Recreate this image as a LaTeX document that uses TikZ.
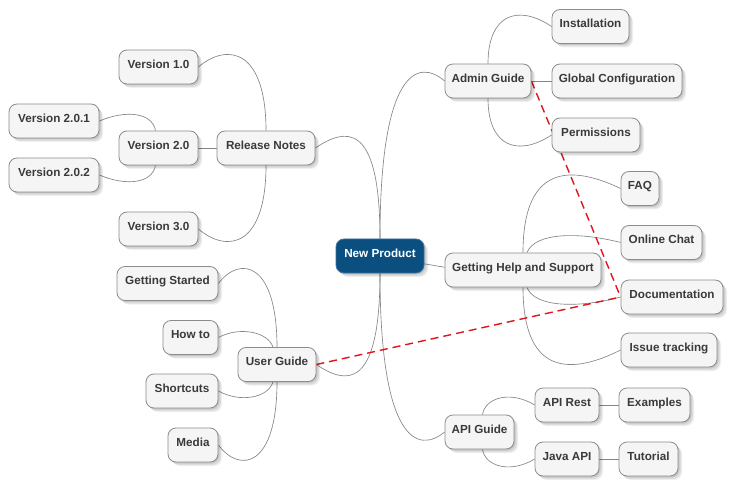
\documentclass[tikz,border=0pt]{standalone}
\usepackage{fontspec}
\setmainfont{Liberation Sans}
\usetikzlibrary{shadows,calc}
\pgfdeclarelayer{bottom}
\pgfdeclarelayer{background}
\pgfsetlayers{bottom,background,main}
\definecolor{txt}{HTML}{3A3A3A}
\definecolor{bord}{HTML}{8C8C8C}
\definecolor{nfill}{HTML}{F5F5F5}
\definecolor{npblue}{HTML}{0B4F80}
\definecolor{npbord}{HTML}{3A73A0}
\definecolor{edgec}{HTML}{858585}
\definecolor{dred}{HTML}{E0141E}
\begin{document}
\begin{tikzpicture}[x=1pt,y=-1pt,
  mm/.style={draw=bord, line width=0.8pt, fill=nfill, rounded corners=8pt,
    minimum height=34pt, inner xsep=2pt, inner ysep=0pt,
    text height=8pt, text depth=5.8pt, text=txt,
    font=\fontsize{11.7}{13}\selectfont\bfseries,
    drop shadow={shadow xshift=4pt, shadow yshift=-4pt, fill=black, opacity=0.06},
    drop shadow={shadow xshift=3pt, shadow yshift=-3pt, fill=black, opacity=0.08},
    drop shadow={shadow xshift=1.5pt, shadow yshift=-1.5pt, fill=black, opacity=0.10}},
  root/.style={mm, fill=npblue, draw=npbord, text=white},
  ln/.style={draw=edgec, line width=0.65pt},
  dline/.style={draw=dred, line width=1.4pt, dash pattern=on 8pt off 5pt}]
\useasboundingbox (0,0) rectangle (733,486);
\begin{pgfonlayer}{bottom}
\fill[white] (0,0) rectangle (733,486);
\end{pgfonlayer}

% nodes
\node[root, minimum width=88pt] (NP) at (380,256) {New Product};

\node[mm, minimum width=98pt] (RN) at (266,148) {Release Notes};
\node[mm, minimum width=79pt] (V1) at (158.5,67) {Version 1.0};
\node[mm, minimum width=79pt] (V2) at (158.5,148) {Version 2.0};
\node[mm, minimum width=79pt] (V3) at (158.5,229) {Version 3.0};
\node[mm, minimum width=90pt] (V201) at (54,121) {Version 2.0.1};
\node[mm, minimum width=90pt] (V202) at (54,175) {Version 2.0.2};

\node[mm, minimum width=86pt] (AG) at (488,81) {Admin Guide};
\node[mm, minimum width=77pt] (Inst) at (590.5,26.5) {Installation};
\node[mm, minimum width=130pt] (GC) at (617,81) {Global Configuration};
\node[mm, minimum width=88pt] (Perm) at (596,135) {Permissions};

\node[mm, minimum width=156pt] (GH) at (523,270) {Getting Help and Support};
\node[mm, minimum width=38pt] (FAQ) at (640,188.5) {FAQ};
\node[mm, minimum width=81pt] (OC) at (661.5,242.5) {Online Chat};
\node[mm, minimum width=102pt] (Doc) at (672,297) {Documentation};
\node[mm, minimum width=96pt] (IT) at (669,350) {Issue tracking};

\node[mm, minimum width=78pt] (UG) at (277,364.5) {User Guide};
\node[mm, minimum width=101pt] (GS) at (167.5,283.5) {Getting Started};
\node[mm, minimum width=55pt] (HT) at (190.5,337.5) {How to};
\node[mm, minimum width=72pt] (SC) at (182,391) {Shortcuts};
\node[mm, minimum width=50pt] (MD) at (193,445) {Media};

\node[mm, minimum width=69pt] (APIG) at (479.5,432) {API Guide};
\node[mm, minimum width=64pt] (AR) at (567,405) {API Rest};
\node[mm, minimum width=71pt] (EX) at (654.5,405) {Examples};
\node[mm, minimum width=64pt] (JA) at (567,459) {Java API};
\node[mm, minimum width=59pt] (TU) at (648.5,459) {Tutorial};

\begin{pgfonlayer}{background}
% root edges
\draw[ln] (NP.north) .. controls (380,120) and (345,128) .. (RN.east);
\draw[ln] (NP.north) .. controls (380,70) and (418,58) .. (AG.west);
\draw[ln] (NP.-10) -- (GH.178);
\draw[ln] (NP.south) .. controls (380,392) and (345,384) .. (UG.east);
\draw[ln] (NP.south) .. controls (380,442) and (418,454) .. (APIG.west);
% release notes
\draw[ln] (RN.north) .. controls (266,50) and (228,42) .. (V1.east);
\draw[ln] (RN.west) -- (V2.east);
\draw[ln] (RN.south) .. controls (266,246) and (228,254) .. (V3.east);
\draw[ln] ($(V2.north)+(-3,0)$) .. controls (152,112) and (125,110) .. (V201.east);
\draw[ln] ($(V2.south)+(-3,0)$) .. controls (152,184) and (125,186) .. (V202.east);
% admin guide
\draw[ln] (AG.north) .. controls (488,14) and (518,4) .. (Inst.west);
\draw[ln] (AG.east) -- (GC.west);
\draw[ln] (AG.south) .. controls (488,147) and (518,157) .. (Perm.west);
% getting help
\draw[ln] (GH.north) .. controls (523,170) and (565,162) .. (FAQ.west);
\draw[ln] ($(GH.north)+(4,0)$) .. controls (535,232) and (580,232) .. (OC.west);
\draw[ln] ($(GH.south)+(4,0)$) .. controls (535,308) and (580,308) .. (Doc.west);
\draw[ln] (GH.south) .. controls (523,370) and (565,378) .. (IT.west);
% user guide
\draw[ln] (UG.north) .. controls (277,262) and (240,255) .. (GS.east);
\draw[ln] ($(UG.north)+(-4,0)$) .. controls (268,332) and (240,326) .. (HT.east);
\draw[ln] ($(UG.south)+(-4,0)$) .. controls (268,398) and (240,403) .. (SC.east);
\draw[ln] (UG.south) .. controls (277,467) and (240,474) .. (MD.east);
% api guide
\draw[ln] ($(APIG.north)+(3,0)$) .. controls (485,398) and (510,390) .. (AR.west);
\draw[ln] ($(APIG.south)+(3,0)$) .. controls (485,466) and (510,474) .. (JA.west);
\draw[ln] (AR.east) -- (EX.west);
\draw[ln] (JA.east) -- (TU.west);
% dashed links
\draw[dline] (UG.east) -- (Doc.west);
\draw[dline] (AG.east) -- (Doc.west);
\end{pgfonlayer}
\end{tikzpicture}
\end{document}
